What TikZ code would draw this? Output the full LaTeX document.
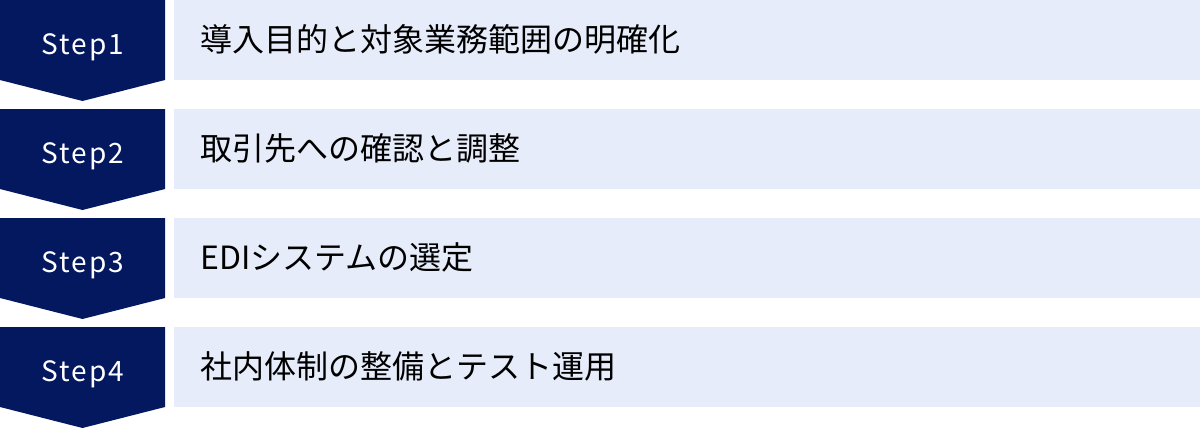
\documentclass[tikz,border=0pt]{standalone}
\usepackage{fontspec}
\setmainfont{Noto Sans CJK JP}
\newfontfamily\stepfont[LetterSpace=7]{Noto Sans CJK JP}
\definecolor{stepnavy}{RGB}{4,24,96}
\definecolor{rowblue}{RGB}{230,236,249}

\begin{document}
\begin{tikzpicture}[x=1pt,y=-1pt]
\useasboundingbox (0,0) rectangle (1200,429);
\begin{scope}[every path/.style={fill=stepnavy}]
    \path (0,0) -- (165,0) -- (165,80) -- (82.5,101) -- (0,80) -- cycle;
    \path (0,109) -- (165,109) -- (165,189) -- (82.5,210) -- (0,189) -- cycle;
    \path (0,218) -- (165,218) -- (165,298) -- (82.5,319) -- (0,298) -- cycle;
    \path (0,327) -- (165,327) -- (165,407) -- (82.5,428) -- (0,407) -- cycle;
\end{scope}
\begin{scope}[every path/.style={fill=rowblue}]
    \path (174,0) rectangle (1200,80);
    \path (174,109) rectangle (1200,189);
    \path (174,218) rectangle (1200,298);
    \path (174,327) rectangle (1200,407);
\end{scope}
\begin{scope}[every node/.style={anchor=base,text=white,inner sep=0pt,
              font=\stepfont\fontsize{28}{28}\selectfont}]
    \node (s1) at (83,54) {Step1};
    \node (s2) at (83,163) {Step2};
    \node (s3) at (83,272) {Step3};
    \node (s4) at (83,381) {Step4};
\end{scope}
\begin{scope}[every node/.style={anchor=base west,text=black,inner sep=0pt,
              font=\fontsize{32}{32}\selectfont}]
    \node (r1) at (200,51) {導入目的と対象業務範囲の明確化};
    \node (r2) at (200,160) {取引先への確認と調整};
    \node (r3) at (200,269) {EDIシステムの選定};
    \node (r4) at (200,378) {社内体制の整備とテスト運用};
\end{scope}
\end{tikzpicture}
\end{document}
